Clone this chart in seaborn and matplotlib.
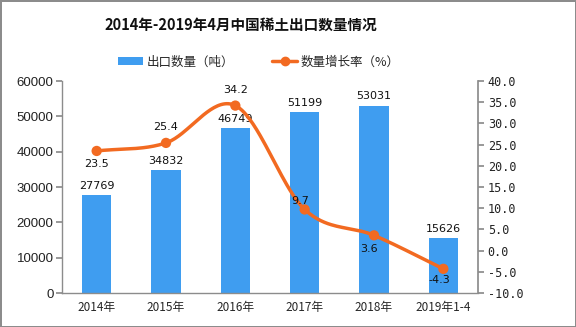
import numpy as np
import pandas as pd
import matplotlib
matplotlib.use("Agg")
import matplotlib.pyplot as plt
import seaborn as sns
from matplotlib.lines import Line2D
from matplotlib.patches import Patch

categories = ["2014年", "2015年", "2016年", "2017年", "2018年", "2019年1-4"]
export_qty = [27769, 34832, 46749, 51199, 53031, 15626]
growth_rate = [23.5, 25.4, 34.2, 9.7, 3.6, -4.3]
left_ticks = [0, 10000, 20000, 30000, 40000, 50000, 60000]
right_ticks = [-10, -5, 0, 5, 10, 15, 20, 25, 30, 35, 40]

title = "2014年-2019年4月中国稀土出口数量情况"
bar_label = "出口数量（吨）"
line_label = "数量增长率（%）"

sns.set_theme(style="white")
plt.rcParams['font.family'] = ['Noto Sans CJK SC', 'DejaVu Sans']

BAR_C = "#3F9DF0"
LINE_C = "#F26A21"
AX_C = "#8C8C8C"

fig = plt.figure(figsize=(5.76, 3.27), dpi=100)
fig.patch.set_edgecolor("#8C8C8C")
fig.patch.set_linewidth(2)
ax = fig.add_axes([62/576, 1-293/327, (478-62)/576, (293-81)/327])

df = pd.DataFrame({"cat": categories, "qty": export_qty, "rate": growth_rate})
sns.barplot(data=df, x="cat", y="qty", ax=ax, color=BAR_C, width=0.42,
            saturation=1, edgecolor="none")
ax.set_ylim(0, 60000)
ax.set_xlim(-0.5, len(categories) - 0.5)
ax.set_yticks(left_ticks)
ax.set_yticklabels([str(t) for t in left_ticks], family="Liberation Sans", color="#222222")
ax.set_xlabel("")
ax.set_ylabel("")
# category labels at centres, ticks at boundaries
ax.set_xticks(np.arange(len(categories)), minor=True)
ax.set_xticklabels(categories, minor=True, color="#222222")
ax.set_xticks(np.arange(len(categories) + 1) - 0.5)
ax.set_xticklabels([])
ax.tick_params(axis="x", which="minor", length=0, pad=6, labelsize=8.5)
ax.tick_params(axis="x", which="major", length=4, color=AX_C, direction="out")
ax.tick_params(axis="y", length=4, color=AX_C, direction="out", left=True, pad=2, labelsize=9.5)
for s in ["top", "right"]:
    ax.spines[s].set_visible(False)
for s in ["left", "bottom"]:
    ax.spines[s].set_color(AX_C)
    ax.spines[s].set_linewidth(1)

for i, v in enumerate(export_qty):
    ax.text(i, v + 1200, str(v), ha="center", va="bottom", fontsize=8, family="DejaVu Sans", color="#111111")

ax2 = ax.twinx()
ax2.set_ylim(-10, 40)
ax2.set_yticks(right_ticks)
ax2.set_yticklabels([f"{t:.1f}" for t in right_ticks], family="DejaVu Sans Mono", color="#222222")
ax2.tick_params(axis="y", length=4, color=AX_C, direction="out", right=True, pad=3, labelsize=8.5)
for s in ["top", "left", "bottom"]:
    ax2.spines[s].set_visible(False)
ax2.spines["right"].set_color(AX_C)

# smooth curve (Catmull-Rom through the data points)
xs = np.arange(len(growth_rate), dtype=float)
ys = np.array(growth_rate, dtype=float)
px = np.concatenate([[2*xs[0]-xs[1]], xs, [2*xs[-1]-xs[-2]]])
py = np.concatenate([[2*ys[0]-ys[1]], ys, [2*ys[-1]-ys[-2]]])
cx, cy = [], []
for k in range(1, len(px) - 2):
    t = np.linspace(0, 1, 40)
    p0, p1, p2, p3 = py[k-1], py[k], py[k+1], py[k+2]
    q0, q1, q2, q3 = px[k-1], px[k], px[k+1], px[k+2]
    f = lambda a0, a1, a2, a3: 0.5*((2*a1) + (-a0+a2)*t + (2*a0-5*a1+4*a2-a3)*t**2 + (-a0+3*a1-3*a2+a3)*t**3)
    cx.extend(f(q0, q1, q2, q3)); cy.extend(f(p0, p1, p2, p3))
ax2.plot(cx, cy, color=LINE_C, lw=2.5, solid_capstyle="round", zorder=3)
sns.scatterplot(x=xs, y=ys, ax=ax2, color=LINE_C, s=55, edgecolor="none", zorder=4, legend=False)

offsets = [(0, -2.0, "top"), (0, 2.5, "bottom"), (0, 2.5, "bottom"),
           (-0.07, 0.8, "bottom"), (-0.07, -2.0, "top"), (-0.06, -1.5, "top")]
for i, v in enumerate(growth_rate):
    dx, dy, va = offsets[i]
    ax2.text(i + dx, v + dy, f"{v}", ha="center", va=va, fontsize=8, family="DejaVu Sans", color="#111111", zorder=5)

fig.text(241/576, 1-25/327, title, ha="center", va="center", fontsize=10.5, fontweight="bold", color="#111111")

handles = [Patch(facecolor=BAR_C, edgecolor="none"),
           Line2D([0], [0], color=LINE_C, lw=2.5, marker="o", markersize=6)]
fig.legend(handles, [bar_label, line_label], loc="center", bbox_to_anchor=(259/576, 1-62/327),
           ncol=2, frameon=False, fontsize=9, handlelength=2.0, handleheight=0.6, columnspacing=3.0,
           handletextpad=0.3)

fig.savefig("out.png", dpi=100, edgecolor=fig.get_edgecolor())
